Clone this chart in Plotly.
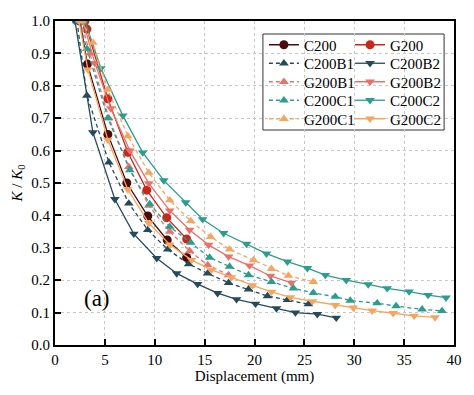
import plotly.graph_objects as go

# ---- data ----
C200_x = [2.5, 3.25, 5.3, 7.2, 9.3, 11.25, 13.2]
C200_y = [1.0, 0.867, 0.65, 0.50, 0.398, 0.324, 0.27]
G200_x = [3.0, 3.2, 5.3, 7.3, 9.2, 11.2, 13.2]
G200_y = [1.0, 0.975, 0.76, 0.595, 0.478, 0.393, 0.327]
C200B1_x = [2.2, 3.2, 5.4, 7.4, 9.3, 11.3, 13.4, 15.3, 17.4, 19.4, 21.3, 23.3, 25.4]
C200B1_y = [1.0, 0.77, 0.564, 0.437, 0.355, 0.295, 0.25, 0.221, 0.192, 0.172, 0.151, 0.139, 0.126]
C200B2_x = [2.0, 3.8, 6.0, 7.9, 10.2, 12.2, 14.3, 16.3, 18.2, 20.1, 22.2, 24.1, 26.3, 28.2]
C200B2_y = [1.0, 0.656, 0.45, 0.343, 0.268, 0.221, 0.188, 0.16, 0.141, 0.127, 0.113, 0.10, 0.095, 0.084]
G200B1_x = [2.6, 3.5, 5.4, 7.4, 9.4, 11.5, 13.5, 15.3, 17.4]
G200B1_y = [1.0, 0.90, 0.70, 0.55, 0.43, 0.35, 0.29, 0.247, 0.216]
G200B2_x = [2.8, 4.0, 5.6, 7.5, 9.4, 11.5, 13.5, 15.4, 17.4, 19.5, 21.6, 23.7]
G200B2_y = [1.0, 0.87, 0.73, 0.60, 0.499, 0.415, 0.355, 0.309, 0.273, 0.245, 0.213, 0.192]
C200C1_x = [2.4, 3.2, 5.3, 7.5, 9.5, 11.5, 13.6, 15.5, 17.5, 19.4, 21.7, 23.9, 25.9, 28.1, 29.6, 32.3, 34.2, 36.8, 38.8]
C200C1_y = [1.0, 0.914, 0.70, 0.54, 0.435, 0.365, 0.316, 0.27, 0.242, 0.216, 0.195, 0.175, 0.161, 0.149, 0.137, 0.129, 0.12, 0.11, 0.105]
C200C2_x = [3.0, 4.6, 6.8, 8.8, 10.9, 13.1, 14.8, 16.9, 19.2, 21.2, 23.3, 25.3, 27.1, 29.2, 31.4, 33.3, 35.5, 37.4, 39.2]
C200C2_y = [1.0, 0.854, 0.708, 0.594, 0.508, 0.44, 0.388, 0.345, 0.312, 0.282, 0.257, 0.237, 0.216, 0.20, 0.187, 0.175, 0.165, 0.154, 0.146]
G200C1_x = [2.7, 3.8, 5.3, 7.3, 9.4, 11.5, 13.6, 15.6, 17.5, 19.9, 21.7, 23.4, 25.9]
G200C1_y = [1.0, 0.933, 0.788, 0.645, 0.532, 0.447, 0.383, 0.334, 0.295, 0.262, 0.235, 0.214, 0.195]
G200C2_x = [2.4, 3.3, 5.3, 7.3, 9.4, 11.5, 13.7, 15.7, 17.7, 19.8, 21.7, 23.6, 25.8, 28.1, 29.9, 31.8, 33.9, 36.0, 38.1]
G200C2_y = [1.0, 0.85, 0.633, 0.48, 0.376, 0.31, 0.262, 0.232, 0.209, 0.184, 0.164, 0.147, 0.135, 0.123, 0.115, 0.106, 0.098, 0.09, 0.085]

x_ticks = [0, 5, 10, 15, 20, 25, 30, 35, 40]
y_ticks = [0.0, 0.1, 0.2, 0.3, 0.4, 0.5, 0.6, 0.7, 0.8, 0.9, 1.0]

DARK = "#4a0a0c"
RED = "#c8281c"
NAVY = "#254a5c"
SALMON = "#ec706a"
TEAL = "#2a9d8f"
ORANGE = "#f6a55e"

FONT = "Liberation Serif"

# (name, x, y, color, dash, symbol, column, row)
series = [
    ("C200", C200_x, C200_y, DARK, "solid", "circle", 0, 0),
    ("G200", G200_x, G200_y, RED, "solid", "circle", 1, 0),
    ("C200B1", C200B1_x, C200B1_y, NAVY, "4px,3px", "triangle-up", 0, 1),
    ("C200B2", C200B2_x, C200B2_y, NAVY, "solid", "triangle-down", 1, 1),
    ("G200B1", G200B1_x, G200B1_y, SALMON, "4px,3px", "triangle-up", 0, 2),
    ("G200B2", G200B2_x, G200B2_y, SALMON, "solid", "triangle-down", 1, 2),
    ("C200C1", C200C1_x, C200C1_y, TEAL, "4px,3px", "triangle-up", 0, 3),
    ("C200C2", C200C2_x, C200C2_y, TEAL, "solid", "triangle-down", 1, 3),
    ("G200C1", G200C1_x, G200C1_y, ORANGE, "4px,3px", "triangle-up", 0, 4),
    ("G200C2", G200C2_x, G200C2_y, ORANGE, "solid", "triangle-down", 1, 4),
]

W, H = 474, 395
ml, mr, mt, mb = 55, 16, 21, 50
pw, ph = W - ml - mr, H - mt - mb

def px2paper(px, py):
    return (px - ml) / pw, (H - mb - py) / ph

col_px = [266, 353]
row_px = [45, 63.5, 82, 100.5, 119]

fig = go.Figure()
legends = {}
for i, (name, xs, ys, col, dash, sym, c, r) in enumerate(series):
    size = 9 if sym == "circle" else 8.5
    lname = "legend" if i == 0 else f"legend{i + 1}"
    fig.add_trace(go.Scatter(
        x=xs, y=ys, name=name, mode="lines+markers",
        line=dict(color=col, width=1.3, dash=dash),
        marker=dict(color=col, symbol=sym, size=size, line=dict(width=0)),
        legend=lname,
    ))
    lx, ly = px2paper(col_px[c], row_px[r])
    legends[lname] = dict(x=lx, y=ly, xanchor="left", yanchor="middle",
                          bgcolor="rgba(0,0,0,0)", borderwidth=0,
                          font=dict(family=FONT, size=15, color="black"),
                          itemwidth=30)

bx1, by1 = px2paper(265, 34)
bx2, by2 = px2paper(448, 130)

axis_common = dict(
    showline=True, linecolor="black", linewidth=2, mirror=True,
    ticks="inside", ticklen=6, tickwidth=1.5, tickcolor="black",
    showgrid=True, gridcolor="#c8c8c8", griddash="dot", gridwidth=1,
    zeroline=False,
    tickfont=dict(family=FONT, size=15, color="black"),
)

ax, ay = px2paper(97, 298)

fig.update_layout(
    width=W, height=H,
    margin=dict(l=ml, r=mr, t=mt, b=mb),
    paper_bgcolor="white", plot_bgcolor="white",
    font=dict(family=FONT, size=15, color="black"),
    xaxis=dict(range=[0, 40], tickvals=x_ticks,
               title=dict(text="Displacement (mm)", font=dict(family=FONT, size=15), standoff=3),
               **axis_common),
    yaxis=dict(range=[0, 1.0], tickvals=y_ticks, tickformat=".1f",
               title=dict(text="<i>K</i> / <i>K</i><sub>0</sub>", font=dict(family=FONT, size=15), standoff=5),
               **axis_common),
    shapes=[dict(type="rect", xref="paper", yref="paper",
                 x0=bx1, y0=by1, x1=bx2, y1=by2,
                 line=dict(color="#333333", width=1), fillcolor="white", layer="below")],
    annotations=[dict(text="(a)", xref="paper", yref="paper", x=ax, y=ay,
                      xanchor="center", yanchor="middle",
                      showarrow=False, font=dict(family=FONT, size=23, color="black"))],
    showlegend=True,
    **legends,
)

fig.write_html("out.html")
